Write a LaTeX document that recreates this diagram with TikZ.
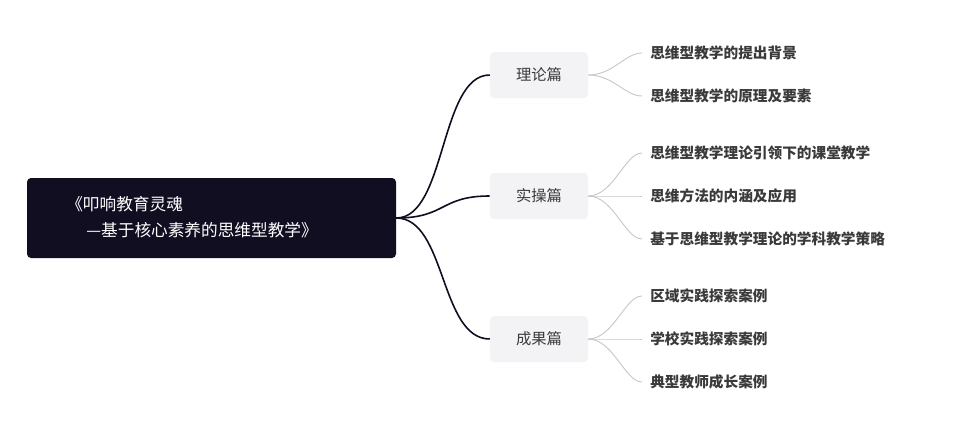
\documentclass[tikz,border=0pt]{standalone}
\usepackage{fontspec}
\setmainfont{Noto Sans CJK SC}
\usetikzlibrary{calc}
\definecolor{rootfill}{HTML}{120E22}
\definecolor{topicfill}{HTML}{F3F3F5}
\definecolor{leaftext}{HTML}{3A3A3A}
\definecolor{leafline}{HTML}{C8C8C8}
\tikzset{
  root/.style={fill=rootfill,rounded corners=3pt,minimum width=369*0.75pt,minimum height=80*0.75pt,text=white,font=\fontsize{12.5pt}{16pt}\selectfont,align=left},
  topic/.style={fill=topicfill,rounded corners=3pt,minimum width=98*0.75pt,minimum height=46*0.75pt,text=leaftext,font=\fontsize{11.5pt}{14pt}\selectfont},
  leaf/.style={anchor=west,text=leaftext,font=\bfseries\fontsize{11pt}{14pt}\selectfont,inner sep=0pt},
  mainline/.style={draw=rootfill,line width=1.2pt},
  subline/.style={draw=leafline,line width=0.7pt}
}
\begin{document}
\begin{tikzpicture}[x=0.75pt,y=0.75pt,yscale=-1]
\useasboundingbox (0,0) rectangle (958,425);

% root
\node[root] (book) at (211.5,218) {};
\node[anchor=west,text=white,font=\fontsize{12.5pt}{16pt}\selectfont,inner sep=0pt] (t1) at (66,204) {《叩响教育灵魂};
\node[anchor=west,text=white,font=\fontsize{12.5pt}{16pt}\selectfont,inner sep=0pt] (t2) at (86,230) {—基于核心素养的思维型教学》};

% topics
\node[topic] (theory) at (539,75) {理论篇};
\node[topic] (practice) at (539,196) {实操篇};
\node[topic] (result) at (539,339) {成果篇};

\foreach \t in {theory,practice,result}
  \draw[mainline] (book.east) .. controls ++(50,0) and ($(\t.west)+(-50,0)$) .. (\t.west);

% leaves
\node[leaf] (a1) at (650,53) {思维型教学的提出背景};
\node[leaf] (a2) at (650,96) {思维型教学的原理及要素};
\node[leaf] (b1) at (650,153) {思维型教学理论引领下的课堂教学};
\node[leaf] (b2) at (650,196) {思维方法的内涵及应用};
\node[leaf] (b3) at (650,239) {基于思维型教学理论的学科教学策略};
\node[leaf] (c1) at (650,296) {区域实践探索案例};
\node[leaf] (c2) at (650,339) {学校实践探索案例};
\node[leaf] (c3) at (650,382) {典型教师成长案例};

\foreach \t/\l in {theory/a1,theory/a2,practice/b1,practice/b2,practice/b3,result/c1,result/c2,result/c3}
  \draw[subline] (\t.east) .. controls ++(25,0) and ($(\l.west)+(-25,0)$) .. ($(\l.west)+(-8,0)$);
\end{tikzpicture}
\end{document}
